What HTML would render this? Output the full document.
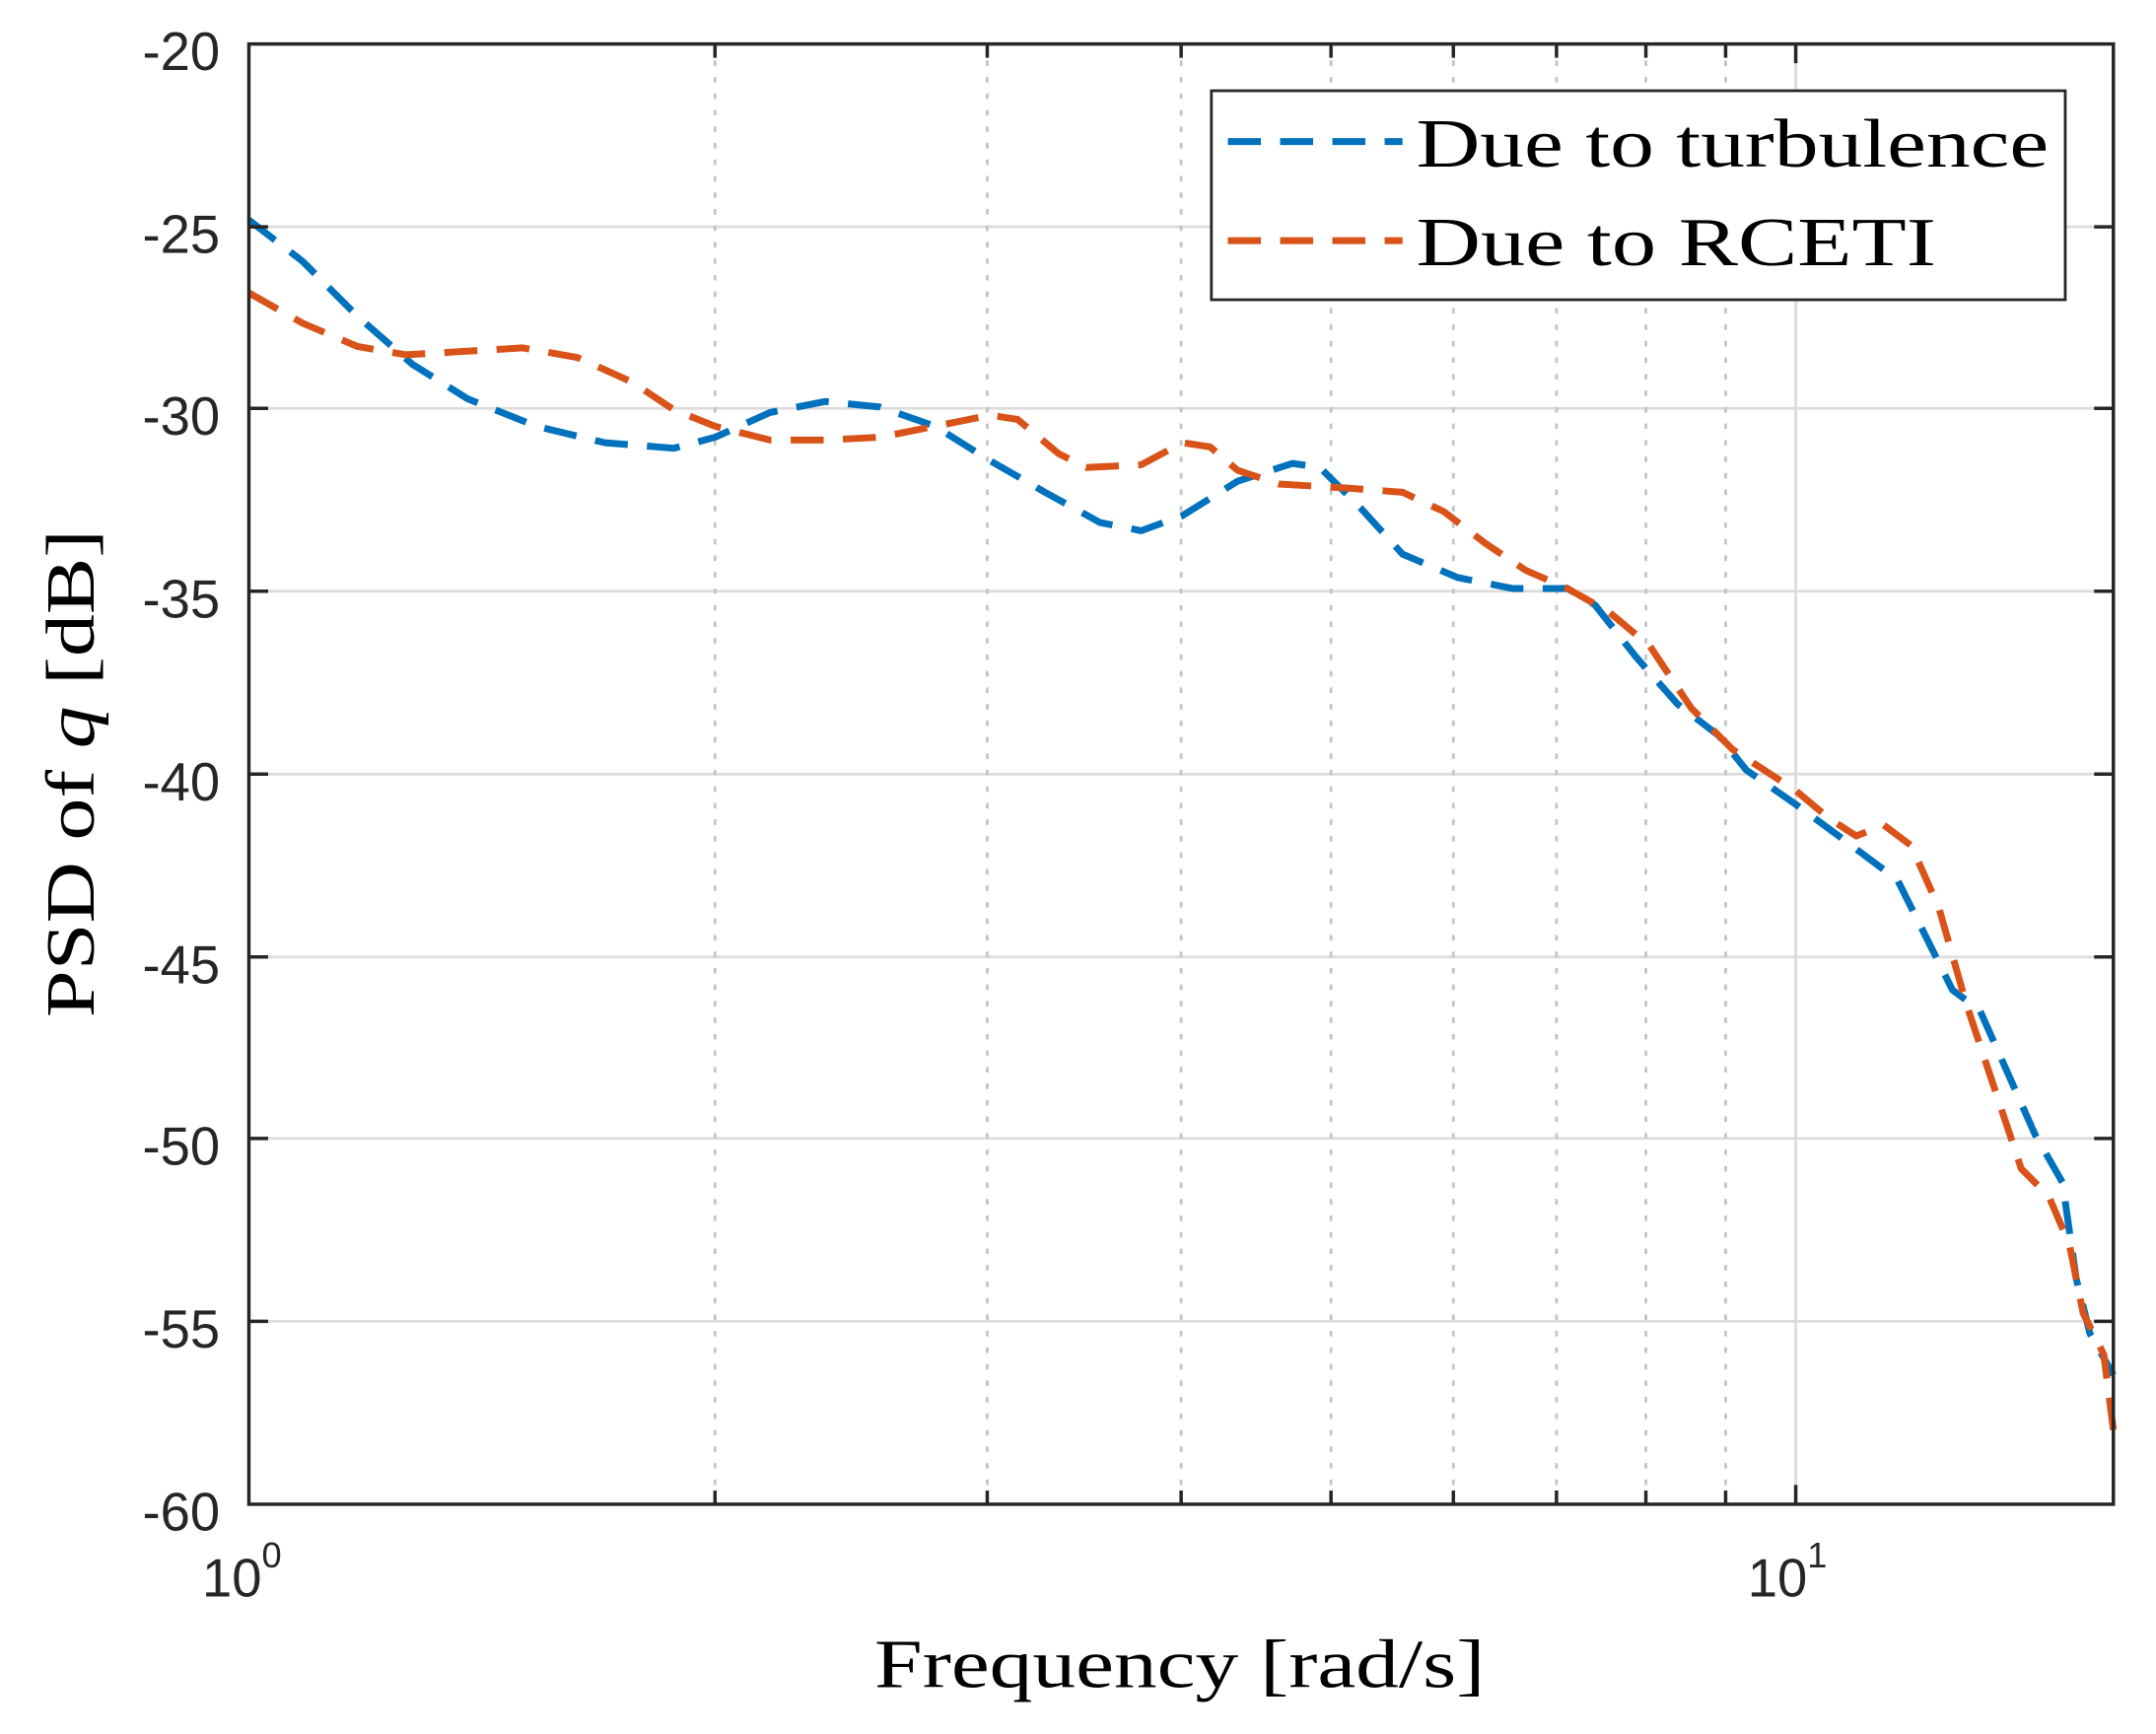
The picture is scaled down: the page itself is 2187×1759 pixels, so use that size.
<!DOCTYPE html>
<html><head><meta charset="utf-8"><style>html,body{margin:0;padding:0;background:#fff}svg{display:block}</style></head>
<body>
<svg width="2187" height="1759" viewBox="0 0 1568 1261.1" preserveAspectRatio="none" xmlns="http://www.w3.org/2000/svg">
<rect x="0" y="0" width="1568" height="1261.1" fill="#fff"/>
<g stroke="#dcdcdc" stroke-width="2">
<line x1="181" y1="165" x2="1537" y2="165"/><line x1="181" y1="297" x2="1537" y2="297"/>
<line x1="181" y1="430" x2="1537" y2="430"/><line x1="181" y1="563" x2="1537" y2="563"/>
<line x1="181" y1="696" x2="1537" y2="696"/><line x1="181" y1="828" x2="1537" y2="828"/>
<line x1="181" y1="961" x2="1537" y2="961"/><line x1="1306" y1="32" x2="1306" y2="1094"/>
</g>
<g stroke="#c4c4c4" stroke-width="2" stroke-dasharray="4 8">
<line x1="520" y1="32" x2="520" y2="1094"/><line x1="718" y1="32" x2="718" y2="1094"/>
<line x1="859" y1="32" x2="859" y2="1094"/><line x1="968" y1="32" x2="968" y2="1094"/>
<line x1="1057" y1="32" x2="1057" y2="1094"/><line x1="1132" y1="32" x2="1132" y2="1094"/>
<line x1="1197" y1="32" x2="1197" y2="1094"/><line x1="1255" y1="32" x2="1255" y2="1094"/>
</g>
<g fill="none" stroke-width="5" stroke-dasharray="24 14" stroke-linejoin="round">
<polyline stroke="#0072bd" points="181,160 220,190 260,230 300,265 340,290 390,310 440,322 490,326 520,318 560,300 600,292 640,296 680,310 720,335 760,358 800,380 830,386 860,375 900,350 940,337 960,340 990,370 1020,403 1060,420 1100,428 1140,428 1160,440 1190,478 1220,512 1250,535 1270,560 1306,585 1340,610 1380,640 1400,680 1420,720 1440,735 1460,780 1480,825 1500,860 1510,930 1520,970 1537,1000"/>
<polyline stroke="#d95319" points="181,213 220,235 260,252 295,258 330,256 380,253 420,260 460,278 490,298 520,310 560,320 600,320 640,318 680,310 720,302 740,305 770,330 790,340 830,338 860,322 880,325 900,342 930,352 980,355 1020,358 1050,372 1080,395 1110,415 1140,428 1170,445 1200,470 1230,515 1260,545 1306,575 1330,595 1350,608 1370,600 1390,615 1410,660 1430,730 1450,790 1470,850 1490,870 1505,905 1515,955 1530,985 1537,1040"/>
</g>
<g stroke="#262626" stroke-width="2.5" fill="none">
<rect x="181" y="32" width="1356" height="1062"/>
<path d="M181,165h14M181,297h14M181,430h14M181,563h14M181,696h14M181,828h14M181,961h14M1537,165h-14M1537,297h-14M1537,430h-14M1537,563h-14M1537,696h-14M1537,828h-14M1537,961h-14"/>
<path d="M520,1094v-10M718,1094v-10M859,1094v-10M968,1094v-10M1057,1094v-10M1132,1094v-10M1197,1094v-10M1255,1094v-10M1306,1094v-14M520,32v10M718,32v10M859,32v10M968,32v10M1057,32v10M1132,32v10M1197,32v10M1255,32v10M1306,32v14"/>
</g>
<g font-family="Liberation Sans, sans-serif" font-size="39" fill="#262626" text-anchor="end">
<text x="160" y="51">-20</text><text x="160" y="184">-25</text><text x="160" y="316">-30</text>
<text x="160" y="449">-35</text><text x="160" y="582">-40</text><text x="160" y="715">-45</text>
<text x="160" y="847">-50</text><text x="160" y="980">-55</text><text x="160" y="1113">-60</text>
</g>
<g font-family="Liberation Sans, sans-serif" font-size="39" fill="#262626">
<text x="147" y="1161">10<tspan font-size="26" dy="-21">0</tspan></text>
<text x="1271" y="1161">10<tspan font-size="26" dy="-21">1</tspan></text>
</g>
<g font-family="Liberation Serif, serif" fill="#000">
<text x="636" y="1227" font-size="50" textLength="444" lengthAdjust="spacingAndGlyphs">Frequency [rad/s]</text>
<text transform="translate(68,740) rotate(-90)" font-size="50" textLength="355" lengthAdjust="spacingAndGlyphs">PSD of <tspan font-style="italic">q</tspan> [dB]</text>
</g>
<rect x="881" y="66" width="621" height="152" fill="#fff" stroke="#262626" stroke-width="2"/>
<line x1="893" y1="103" x2="1020" y2="103" stroke="#0072bd" stroke-width="5" stroke-dasharray="24 14"/>
<line x1="893" y1="175" x2="1020" y2="175" stroke="#d95319" stroke-width="5" stroke-dasharray="24 14"/>
<g font-family="Liberation Serif, serif" font-size="50" fill="#000">
<text x="1030" y="121" textLength="460" lengthAdjust="spacingAndGlyphs">Due to turbulence</text>
<text x="1030" y="193" textLength="378" lengthAdjust="spacingAndGlyphs">Due to RCETI</text>
</g>
</svg>
</body></html>
